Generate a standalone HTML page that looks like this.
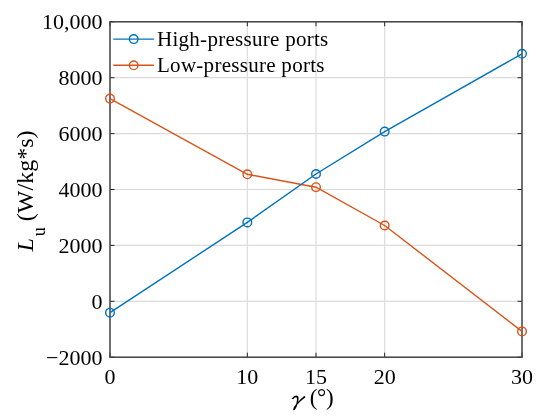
<!DOCTYPE html><html><head><meta charset="utf-8"><style>html,body{margin:0;padding:0;background:#fff;}svg{display:block;}text{font-family:"Liberation Serif",serif;fill:#000;}</style></head><body>
<svg width="550" height="419" viewBox="0 0 550 419">
<rect width="550" height="419" fill="#fff"/>
<path d="M247.33 21.8V357.2M316.00 21.8V357.2M384.67 21.8V357.2M110.0 301.30H522.0M110.0 245.40H522.0M110.0 189.50H522.0M110.0 133.60H522.0M110.0 77.70H522.0" stroke="#dcdcdc" stroke-width="1.2" fill="none"/>
<path d="M110.00 357.2v-4.5M110.00 21.8v4.5M247.33 357.2v-4.5M247.33 21.8v4.5M316.00 357.2v-4.5M316.00 21.8v4.5M384.67 357.2v-4.5M384.67 21.8v4.5M522.00 357.2v-4.5M522.00 21.8v4.5M110.0 357.20h4.5M522.0 357.20h-4.5M110.0 301.30h4.5M522.0 301.30h-4.5M110.0 245.40h4.5M522.0 245.40h-4.5M110.0 189.50h4.5M522.0 189.50h-4.5M110.0 133.60h4.5M522.0 133.60h-4.5M110.0 77.70h4.5M522.0 77.70h-4.5M110.0 21.80h4.5M522.0 21.80h-4.5" stroke="#262626" stroke-width="1" fill="none"/>
<rect x="110.0" y="21.8" width="412.0" height="335.4" fill="none" stroke="#404040" stroke-width="1.5"/>
<polyline points="110.00,98.60 247.33,174.30 316.00,187.20 384.67,225.50 522.00,331.40" fill="none" stroke="#D95319" stroke-width="1.4"/>
<circle cx="110.00" cy="98.60" r="4.3" fill="none" stroke="#D95319" stroke-width="1.4"/>
<circle cx="247.33" cy="174.30" r="4.3" fill="none" stroke="#D95319" stroke-width="1.4"/>
<circle cx="316.00" cy="187.20" r="4.3" fill="none" stroke="#D95319" stroke-width="1.4"/>
<circle cx="384.67" cy="225.50" r="4.3" fill="none" stroke="#D95319" stroke-width="1.4"/>
<circle cx="522.00" cy="331.40" r="4.3" fill="none" stroke="#D95319" stroke-width="1.4"/>
<polyline points="110.00,312.65 247.33,222.40 316.00,174.00 384.67,131.60 522.00,53.80" fill="none" stroke="#0072BD" stroke-width="1.4"/>
<circle cx="110.00" cy="312.65" r="4.3" fill="none" stroke="#0072BD" stroke-width="1.4"/>
<circle cx="247.33" cy="222.40" r="4.3" fill="none" stroke="#0072BD" stroke-width="1.4"/>
<circle cx="316.00" cy="174.00" r="4.3" fill="none" stroke="#0072BD" stroke-width="1.4"/>
<circle cx="384.67" cy="131.60" r="4.3" fill="none" stroke="#0072BD" stroke-width="1.4"/>
<circle cx="522.00" cy="53.80" r="4.3" fill="none" stroke="#0072BD" stroke-width="1.4"/>
<text x="102.5" y="364.70" font-size="22" text-anchor="end">−2000</text>
<text x="102.5" y="308.80" font-size="22" text-anchor="end">0</text>
<text x="102.5" y="252.90" font-size="22" text-anchor="end">2000</text>
<text x="102.5" y="197.00" font-size="22" text-anchor="end">4000</text>
<text x="102.5" y="141.10" font-size="22" text-anchor="end">6000</text>
<text x="102.5" y="85.20" font-size="22" text-anchor="end">8000</text>
<text x="102.5" y="29.30" font-size="22" text-anchor="end">10,000</text>
<text x="110.00" y="384" font-size="22" text-anchor="middle">0</text>
<text x="247.33" y="384" font-size="22" text-anchor="middle">10</text>
<text x="316.00" y="384" font-size="22" text-anchor="middle">15</text>
<text x="384.67" y="384" font-size="22" text-anchor="middle">20</text>
<text x="522.00" y="384" font-size="22" text-anchor="middle">30</text>
<path d="M113.3 39.1H153.9" stroke="#0072BD" stroke-width="1.4"/>
<circle cx="133.7" cy="39.1" r="4.3" fill="none" stroke="#0072BD" stroke-width="1.4"/>
<text x="157" y="45.7" font-size="21" letter-spacing="0.28">High-pressure ports</text>
<path d="M113.3 65.3H153.9" stroke="#D95319" stroke-width="1.4"/>
<circle cx="133.7" cy="65.3" r="4.3" fill="none" stroke="#D95319" stroke-width="1.4"/>
<text x="157" y="71.89999999999999" font-size="21" letter-spacing="0.28">Low-pressure ports</text>
<text x="284.5" y="407.5" font-size="23" font-style="italic" style="font-family:IPAGothic,serif">γ</text>
<text y="404.8" font-size="23"><tspan x="309.8">(</tspan><tspan x="317">°</tspan><tspan x="326">)</tspan></text>
<text transform="translate(32.5,251.5) rotate(-90)" font-size="24"><tspan font-style="italic">L</tspan><tspan font-size="18" dx="2" dy="12.5">u</tspan><tspan dy="-12.5" dx="0"> (W/kg*s)</tspan></text>
</svg></body></html>
